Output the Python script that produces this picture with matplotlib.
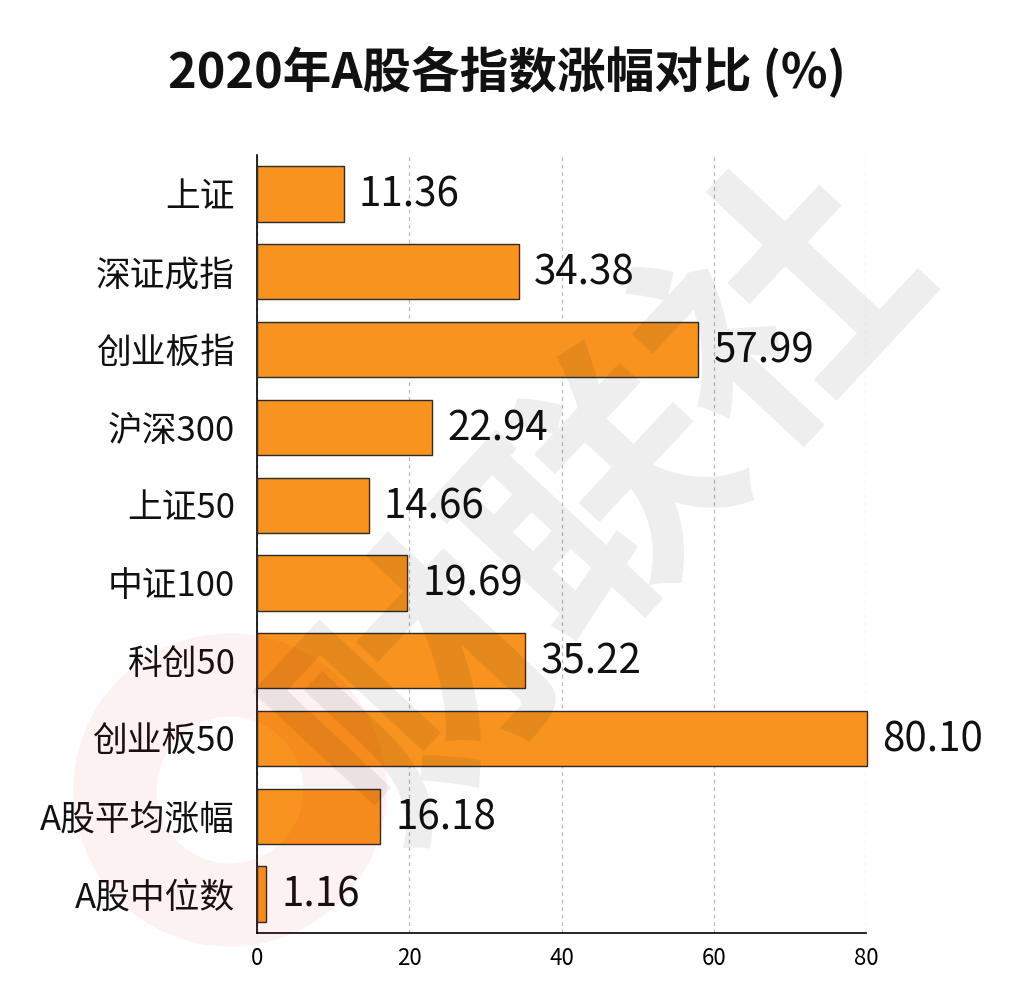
import matplotlib.pyplot as plt
from matplotlib.patches import Circle
from matplotlib.transforms import IdentityTransform

categories = ['上证', '深证成指', '创业板指', '沪深300', '上证50', '中证100',
              '科创50', '创业板50', 'A股平均涨幅', 'A股中位数']
values = [11.36, 34.38, 57.99, 22.94, 14.66, 19.69, 35.22, 80.10, 16.18, 1.16]
xticks = [0, 20, 40, 60, 80]
title = '2020年A股各指数涨幅对比 (%)'

plt.rcParams['font.family'] = ['Noto Sans CJK SC', 'DejaVu Sans']

fig = plt.figure(figsize=(10.14, 10.08), dpi=100)
ax = fig.add_axes([0.2535, 0.0744, 0.6005, 0.7718])

ypos = list(range(len(categories)))
ax.barh(ypos, values, height=0.71, color='#F7931E', edgecolor='#2b2b2b',
        linewidth=1.0, zorder=3, clip_on=False)

for y, v in zip(ypos, values):
    ax.annotate(f'{v:.2f}', xy=(v, y), xytext=(11, -1), textcoords='offset points',
                va='center', ha='left', fontsize=29, fontweight='medium',
                color='#111111', zorder=4, annotation_clip=False)

ax.set_xlim(0, 80)
ax.set_ylim(len(categories) - 0.5, -0.5)
ax.set_yticks(ypos)
ax.set_yticklabels(categories, fontsize=25, fontweight='medium', color='#111111')
ax.set_xticks(xticks)
ax.set_xticklabels([str(t) for t in xticks], fontsize=16)
ax.tick_params(axis='both', length=0)
ax.tick_params(axis='y', pad=16)
ax.tick_params(axis='x', pad=10)

for s in ['top', 'right']:
    ax.spines[s].set_visible(False)
ax.spines['left'].set_linewidth(1.2)
ax.spines['bottom'].set_linewidth(1.2)

ax.grid(axis='x', linestyle=(0, (3, 3)), color='#b8b8b8', linewidth=0.9, zorder=0)
ax.set_axisbelow(True)

fig.text(0.5, 0.928, title, ha='center', va='center', fontsize=35,
         fontweight='bold', color='#111111')

# faint watermark
fig.text(0.60, 0.50, '财联社', ha='center', va='center', fontsize=190,
         fontweight='bold', rotation=47, color='black', alpha=0.07, zorder=10)
ring = Circle((230, 1008 - 790), 115, transform=IdentityTransform(), fill=False,
              edgecolor='#e60012', linewidth=60, alpha=0.05, zorder=10)
fig.patches.append(ring)

fig.savefig('out.png', dpi=100, facecolor='white')
